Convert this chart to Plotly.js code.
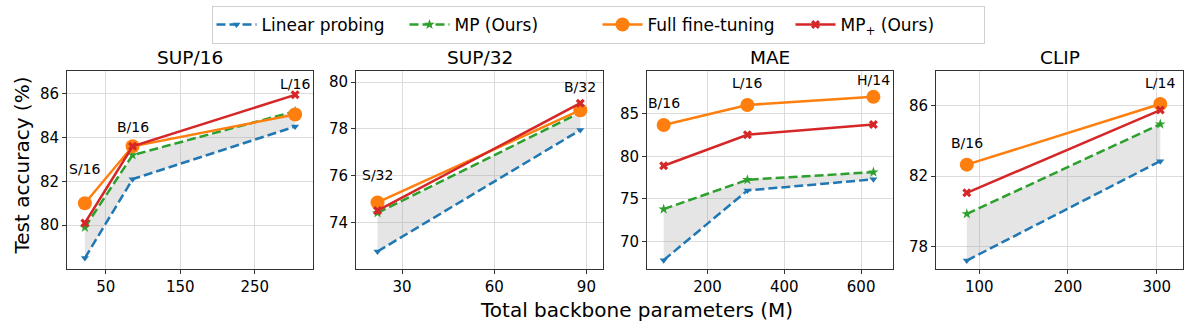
<!DOCTYPE html>
<html>
<head>
<meta charset="utf-8">
<script src="https://cdn.plot.ly/plotly-3.0.1.min.js"></script>
<style>
  html, body { margin: 0; padding: 0; background: #fff; }
  #chart { width: 1196px; height: 331px; }
</style>
</head>
<body>
<div id="chart"></div>
<script>
// backbone sizes (M params) and accuracies
const sup16_x = [22, 86, 304];
const sup16_labels = ['S/16', 'B/16', 'L/16'];
const sup16_lp = [78.5, 82.1, 84.5];
const sup16_mp = [79.9, 83.2, 85.2];
const sup16_ft = [81.0, 83.6, 85.05];
const sup16_mpp = [80.1, 83.6, 85.95];

const sup32_x = [22, 88];
const sup32_labels = ['S/32', 'B/32'];
const sup32_lp = [72.75, 77.95];
const sup32_mp = [74.4, 78.7];
const sup32_ft = [74.85, 78.8];
const sup32_mpp = [74.5, 79.1];

const mae_x = [86, 304, 632];
const mae_labels = ['B/16', 'L/16', 'H/14'];
const mae_lp = [67.8, 76.0, 77.3];
const mae_mp = [73.8, 77.25, 78.15];
const mae_ft = [83.7, 86.05, 87.0];
const mae_mpp = [78.9, 82.55, 83.75];

const clip_x = [86, 304];
const clip_labels = ['B/16', 'L/14'];
const clip_lp = [77.2, 82.85];
const clip_mp = [79.85, 84.95];
const clip_ft = [82.65, 86.1];
const clip_mpp = [81.05, 85.75];

const titles = ['SUP/16', 'SUP/32', 'MAE', 'CLIP'];

const BLUE = '#1f77b4', GREEN = '#2ca02c', ORANGE = '#ff7f0e', RED = '#d62728';
const FONT = 'DejaVu Sans, sans-serif';

const panels = [
    {x: sup16_x, lab: sup16_labels, lp: sup16_lp, mp: sup16_mp, ft: sup16_ft, mpp: sup16_mpp,
     dom: [67, 313], xr: [-2, 328], yr: [78.0, 87.06], xt: [50, 150, 250], yt: [80, 82, 84, 86], shift: [34, 19, 31]},
    {x: sup32_x, lab: sup32_labels, lp: sup32_lp, mp: sup32_mp, ft: sup32_ft, mpp: sup32_mpp,
     dom: [356, 603], xr: [15, 95.4], yr: [72.0, 80.5], xt: [30, 60, 90], yt: [74, 76, 78, 80], shift: [27, 23]},
    {x: mae_x, lab: mae_labels, lp: mae_lp, mp: mae_mp, ft: mae_ft, mpp: mae_mpp,
     dom: [647, 893], xr: [42.6, 683], yr: [66.76, 90.1], xt: [200, 400, 600], yt: [70, 75, 80, 85], shift: [22, 22, 17]},
    {x: clip_x, lab: clip_labels, lp: clip_lp, mp: clip_mp, ft: clip_ft, mpp: clip_mpp,
     dom: [936, 1183], xr: [51.3, 329.6], yr: [76.72, 88.0], xt: [100, 200, 300], yt: [78, 82, 86], shift: [22, 21]}
];

const W = 1196, H = 331;
const yTop = 70.5, yBot = 269;

let data = [];
let annotations = [];
let layout = {
    width: W, height: H,
    margin: {l: 0, r: 0, t: 0, b: 0},
    paper_bgcolor: '#fff',
    plot_bgcolor: '#fff',
    font: {family: FONT, size: 15, color: '#000'},
    showlegend: true,
    legend: {
        orientation: 'h', x: 0.5, xanchor: 'center', y: 1 - 6 / 331, yanchor: 'top',
        bordercolor: '#d0d0d0', borderwidth: 1, font: {size: 17, family: FONT},
        itemwidth: 40, entrywidth: 138
    }
};

panels.forEach((p, i) => {
    const xa = i === 0 ? 'x' : 'x' + (i + 1);
    const ya = i === 0 ? 'y' : 'y' + (i + 1);
    const first = i === 0;

    data.push({
        type: 'scatter', mode: 'lines+markers', name: 'Linear probing',
        x: p.x, y: p.lp, xaxis: xa, yaxis: ya, showlegend: first, legendgroup: 'lp',
        line: {color: BLUE, width: 2.5, dash: '9px,4px'},
        marker: {symbol: 'triangle-down', size: 7, color: BLUE}
    });
    // grey band between linear probing and MP (kept out of the legend)
    data.push({
        type: 'scatter', mode: 'none', name: 'band',
        x: p.x, y: p.mp, xaxis: xa, yaxis: ya, showlegend: false,
        fill: 'tonexty', fillcolor: 'rgba(150,150,150,0.25)', hoverinfo: 'skip'
    });
    data.push({
        type: 'scatter', mode: 'lines+markers', name: 'MP (Ours)',
        x: p.x, y: p.mp, xaxis: xa, yaxis: ya, showlegend: first, legendgroup: 'mp',
        line: {color: GREEN, width: 2.5, dash: '9px,4px'},
        marker: {symbol: 'star', size: 8, color: GREEN}
    });
    data.push({
        type: 'scatter', mode: 'lines+markers', name: 'Full fine-tuning',
        x: p.x, y: p.ft, xaxis: xa, yaxis: ya, showlegend: first, legendgroup: 'ft',
        line: {color: ORANGE, width: 2.5},
        marker: {symbol: 'circle', size: 14, color: ORANGE}
    });
    data.push({
        type: 'scatter', mode: 'lines+markers', name: 'MP<sub>+</sub> (Ours)',
        x: p.x, y: p.mpp, xaxis: xa, yaxis: ya, showlegend: first, legendgroup: 'mpp',
        line: {color: RED, width: 2.5},
        marker: {symbol: 'x', size: 8, color: RED}
    });

    const axCommon = {
        showline: true, mirror: true, linecolor: '#333', linewidth: 1,
        ticks: 'outside', ticklen: 4, tickcolor: '#333',
        showgrid: true, gridcolor: '#dcdcdc', gridwidth: 1,
        zeroline: false, tickfont: {size: 15, family: FONT}
    };
    layout['xaxis' + (i === 0 ? '' : i + 1)] = Object.assign({}, axCommon, {
        domain: [p.dom[0] / W, p.dom[1] / W], range: p.xr,
        tickvals: p.xt, anchor: ya
    });
    layout['yaxis' + (i === 0 ? '' : i + 1)] = Object.assign({}, axCommon, {
        domain: [1 - yBot / H, 1 - yTop / H], range: p.yr,
        tickvals: p.yt, anchor: xa
    });

    // point labels above the full fine-tuning markers
    p.lab.forEach((t, k) => {
        annotations.push({
            text: t, x: p.x[k], y: p.ft[k], xref: xa, yref: ya,
            showarrow: false, yshift: p.shift[k], yanchor: 'middle',
            font: {size: 14, family: FONT}
        });
    });

    // subplot title
    annotations.push({
        text: titles[i], xref: 'paper', yref: 'paper',
        x: (p.dom[0] + p.dom[1]) / 2 / W, y: 1 - 57 / H,
        xanchor: 'center', yanchor: 'middle', showarrow: false,
        font: {size: 18.5, family: FONT}
    });
});

annotations.push({
    text: 'Total backbone parameters (M)', xref: 'paper', yref: 'paper',
    x: 636 / W, y: 1 - 310 / H, xanchor: 'center', yanchor: 'middle',
    showarrow: false, font: {size: 20, family: FONT}
});
annotations.push({
    text: 'Test accuracy (%)', xref: 'paper', yref: 'paper',
    x: 21.5 / W, y: 1 - 166 / H, xanchor: 'center', yanchor: 'middle',
    textangle: -90, showarrow: false, font: {size: 20, family: FONT}
});

layout.annotations = annotations;

Plotly.newPlot('chart', data, layout, {displayModeBar: false, staticPlot: true});
</script>
</body>
</html>
